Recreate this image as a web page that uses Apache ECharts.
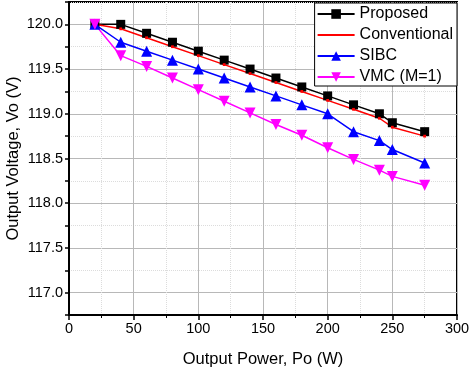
<!DOCTYPE html>
<html><head><meta charset="utf-8">
<script src="https://cdn.jsdelivr.net/npm/echarts@6/dist/echarts.min.js"></script>
<style>html,body{margin:0;padding:0;background:#fff}#c{width:474px;height:370px}</style>
</head><body><div id="c"></div>
<script>
const power = [20, 40, 60, 80, 100, 120, 140, 160, 180, 200, 220, 240, 250, 275];
const proposed = [120.0, 120.0, 119.9, 119.8, 119.7, 119.6, 119.5, 119.4, 119.3, 119.2, 119.1, 119.0, 118.9, 118.8];
const conventional = [120.0, 119.95, 119.85, 119.75, 119.65, 119.55, 119.45, 119.35, 119.25, 119.15, 119.05, 118.95, 118.85, 118.75];
const sibc = [120.0, 119.8, 119.7, 119.6, 119.5, 119.4, 119.3, 119.2, 119.1, 119.0, 118.8, 118.7, 118.6, 118.45];
const vmc = [120.0, 119.65, 119.53, 119.4, 119.27, 119.14, 119.01, 118.88, 118.76, 118.62, 118.49, 118.37, 118.3, 118.2];
const seriesNames = ['Proposed', 'Conventional', 'SIBC', 'VMC (M=1)'];
const xTitle = 'Output Power, Po (W)';
const yTitle = 'Output Voltage, Vo (V)';

const font = 'Liberation Sans, Arial, sans-serif';
const pair = ys => power.map((x, i) => [x, ys[i]]);
const tinyDot = 'path://M0,0L0,0M20,20L20,20M8,8h4v4h-4z';
const chart = echarts.init(document.getElementById('c'), null, {renderer: 'canvas'});
chart.setOption({
  animation: false,
  backgroundColor: '#fff',
  textStyle: {fontFamily: font},
  grid: {left: 69, right: 17, top: 2, bottom: 55, containLabel: false, outerBoundsMode: 'none',
    show: true, borderColor: '#000', borderWidth: 2, backgroundColor: 'transparent'},
  legend: {
    orient: 'vertical', right: 17, top: 3,
    data: seriesNames,
    backgroundColor: '#fff', borderColor: '#000', borderWidth: 1,
    padding: [3, 4, 1, 2], itemWidth: 37, itemHeight: 12, itemGap: 5,
    textStyle: {fontSize: 16, color: '#000', fontFamily: font}
  },
  xAxis: {
    type: 'value', min: 0, max: 300, interval: 50,
    name: xTitle, nameLocation: 'middle', nameGap: 36, nameMoveOverlap: false,
    nameTextStyle: {fontSize: 16.5, color: '#000', fontFamily: font},
    axisLine: {show: true, lineStyle: {color: '#000', width: 2}},
    axisTick: {show: true, inside: false, length: 5, lineStyle: {color: '#000', width: 1.5}},
    minorTick: {show: true, splitNumber: 2, length: 3, lineStyle: {color: '#000', width: 1}},
    axisLabel: {fontSize: 14.5, color: '#000', margin: 6, fontFamily: font},
    splitLine: {show: true, lineStyle: {color: '#b8b8b8', width: 1}},
    minorSplitLine: {show: true, lineStyle: {color: '#dcdcdc', width: 1, type: 'dotted'}}
  },
  yAxis: [{
    type: 'value', min: 116.75, max: 120.25, interval: 0.25,
    name: yTitle, nameLocation: 'middle', nameGap: 47, nameMoveOverlap: false,
    nameTextStyle: {fontSize: 16.5, color: '#000', fontFamily: font},
    axisLine: {show: true, lineStyle: {color: '#000', width: 2}},
    axisTick: {show: true, inside: false, length: 4, lineStyle: {color: '#000', width: 1.5}},
    axisLabel: {fontSize: 14.5, color: '#000', margin: 6, fontFamily: font,
      formatter: v => (Math.abs(v * 2 - Math.round(v * 2)) < 1e-6 ? v.toFixed(1) : '')},
    splitLine: {show: true, lineStyle: {color: ['rgba(0,0,0,0)', '#b8b8b8'], width: 1}}
  }, {
    type: 'value', min: 116.75, max: 120.25, interval: 0.25, position: 'left',
    axisLine: {show: false}, axisTick: {show: false}, axisLabel: {show: false},
    splitLine: {show: true, lineStyle: {color: ['#dcdcdc', 'rgba(0,0,0,0)'], width: 1, type: 'dotted'}}
  }],
  series: [
    {name: seriesNames[0], type: 'line', data: pair(proposed), symbol: 'rect', symbolSize: 9,
     lineStyle: {color: '#000', width: 1.5}, itemStyle: {color: '#000'}},
    {name: seriesNames[1], type: 'line', data: pair(conventional), symbol: tinyDot, symbolSize: 14,
     lineStyle: {color: '#ff0000', width: 1.5}, itemStyle: {color: '#ff0000'}},
    {name: seriesNames[2], type: 'line', data: pair(sibc), symbol: 'triangle', symbolSize: 11,
     lineStyle: {color: '#0000ff', width: 1.5}, itemStyle: {color: '#0000ff'}},
    {name: seriesNames[3], type: 'line', data: pair(vmc), symbol: 'triangle', symbolRotate: 180, symbolSize: 11,
     lineStyle: {color: '#ff00ff', width: 1.5}, itemStyle: {color: '#ff00ff'}}
  ]
});
</script></body></html>
